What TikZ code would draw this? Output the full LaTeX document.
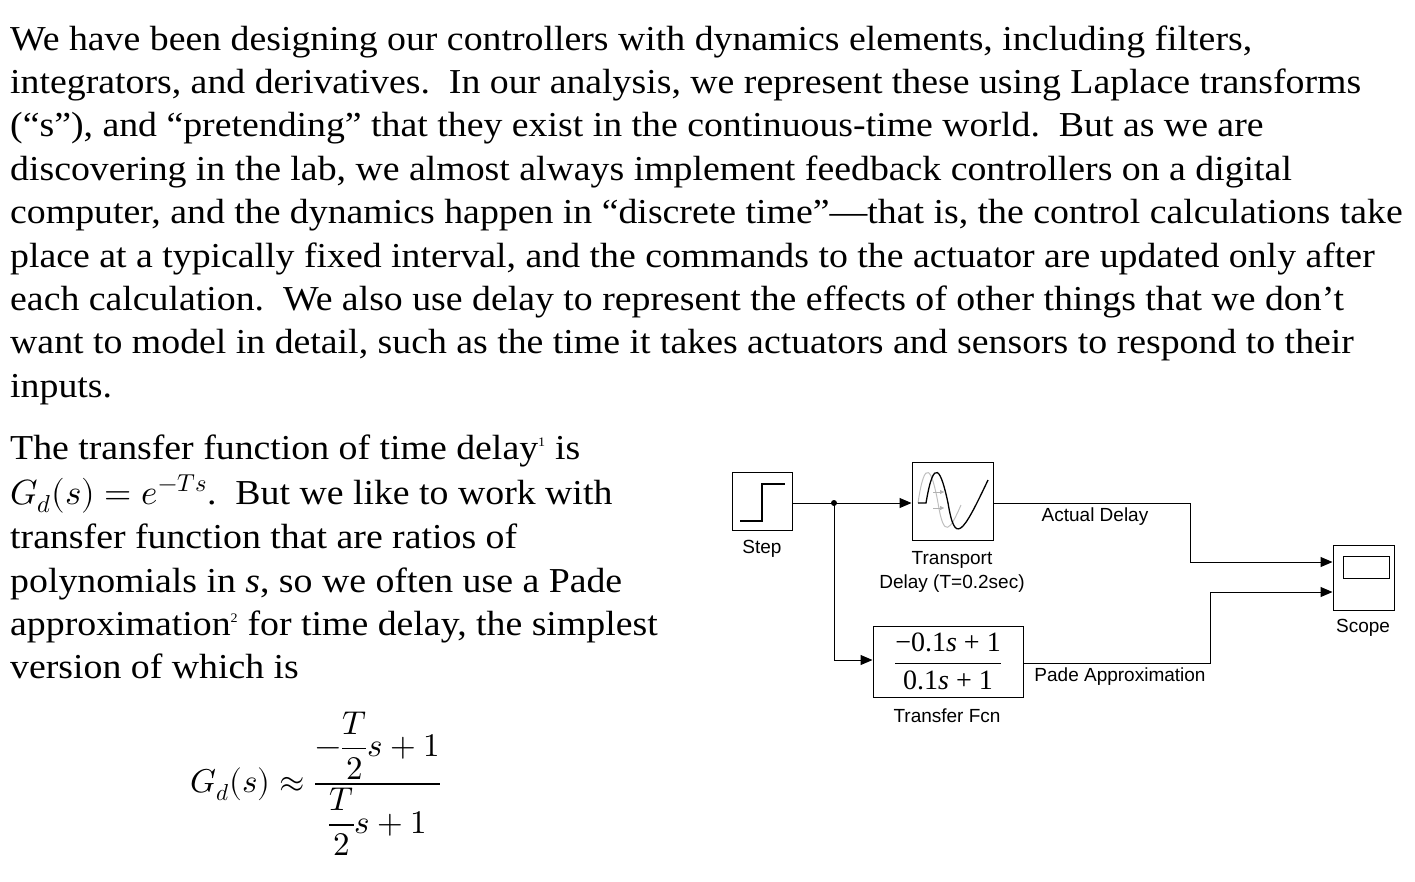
\documentclass[tikz,border=0pt]{standalone}
\usepackage{amsmath}
\usepackage{unicode-math}
\setmathfont{Latin Modern Math}
\setmainfont[FakeStretch=1.08]{Liberation Serif}
\newfontfamily\tfont{Liberation Serif}
\setsansfont{Liberation Sans}
\usetikzlibrary{arrows.meta}
\tikzset{
  txt/.style={anchor=base west,inner sep=0pt,font=\fontsize{35}{40}\selectfont},
  blk/.style={draw,line width=1pt,inner sep=0pt},
  lbl/.style={font=\sffamily\fontsize{19}{22}\selectfont,inner sep=0pt},
  sig/.style={line width=1pt,-{Triangle[length=12pt,width=10pt]}},
  wire/.style={line width=1pt}
}
\begin{document}
\begin{tikzpicture}[x=1pt,y=-1pt]
\useasboundingbox (0,0) rectangle (1415,881);
% paragraph 1
\foreach \t [count=\i] in {
 {We have been designing our controllers with dynamics elements, including filters,},
 {integrators, and derivatives.\ \ In our analysis, we represent these using Laplace transforms},
 {(``s''), and ``pretending'' that they exist in the continuous-time world.\ \ But as we are},
 {discovering in the lab, we almost always implement feedback controllers on a digital},
 {computer, and the dynamics happen in ``discrete time''---that is, the control calculations take},
 {place at a typically fixed interval, and the commands to the actuator are updated only after},
 {each calculation.\ \ We also use delay to represent the effects of other things that we don't},
 {want to model in detail, such as the time it takes actuators and sensors to respond to their},
 {inputs.}}
 \node[txt] (p\i) at (10,{50+43.4*(\i-1)}) {\t};
% paragraph 2
\node[txt] (q1) at (10,459) {The transfer function of time delay\textsuperscript{\fontsize{13}{13}\selectfont 1} is};
\node[txt] (q2) at (10,504) {$G_d(s)=e^{-Ts}$.\ \ But we like to work with};
\node[txt] (q3) at (10,548) {transfer function that are ratios of};
\node[txt] (q4) at (10,592) {polynomials in \textit{s}, so we often use a Pade};
\node[txt] (q5) at (10,635) {approximation\textsuperscript{\fontsize{13}{13}\selectfont 2} for time delay, the simplest};
\node[txt] (q6) at (10,678) {version of which is};
\node[inner sep=0pt,anchor=west,font=\fontsize{33}{38}\selectfont] (eq) at (190,784)
 {$G_d(s)\approx\dfrac{-\dfrac{T}{2}s+1}{\dfrac{T}{2}s+1}$};
% diagram
\node[blk,minimum width=60pt,minimum height=58pt] (step) at (762,501) {};
\draw[line width=1.2pt] (740,521) -- (762,521) -- (762,484) -- (785,484);
\node[lbl] (stepl) at (762,549) {Step};
\node[blk,minimum width=81pt,minimum height=78pt] (td) at (952.5,501) {};
\draw[gray!50,line width=1pt] (918,503) .. controls (925,455) and (932,470) .. (938,503) .. controls (944,540) and (950,530) .. (961,505);
\draw[line width=1.3pt] (918,503) -- (926,503) .. controls (934,455) and (941,470) .. (948,503) .. controls (955,545) and (962,535) .. (988,480);
\draw[gray!60,-{Triangle[length=4pt]}] (933,492) -- (944,492);
\draw[gray!60,-{Triangle[length=4pt]}] (933,508) -- (944,508);
\node[lbl,align=center] (tdl) at (952,572) {Transport\\[2pt]Delay (T=0.2sec)};
\node[blk,minimum width=61pt,minimum height=65pt] (sc) at (1363.5,577.5) {};
\draw[line width=1pt] (1343,556) rectangle (1389,578);
\node[lbl] (scl) at (1363,628) {Scope};
\node[blk,minimum width=150pt,minimum height=71pt] (tf) at (948,661.5)
 {\tfont\fontsize{28}{30}\selectfont$\dfrac{\text{\tfont −0.1\textit{s} + 1}}{\text{\tfont 0.1\textit{s} + 1}}$};
\node[lbl] (tfl) at (947,716) {Transfer Fcn};
\coordinate (br) at (834,503);
\fill (br) circle (3pt);
\draw[wire] (step.east |- br) -- (br);
\draw[sig] (br) -- (td.west |- br);
\draw[sig] (br) |- (tf.west |- 0,660);
\draw[sig] (td.east |- br) -| (1190,562) -- (sc.west |- 0,562);
\draw[sig] (tf.east |- 0,663) -| (1210,592) -- (sc.west |- 0,592);
\node[lbl] (ad) at (1095,517) {Actual Delay};
\node[lbl] (pa) at (1120,677) {Pade Approximation};
\end{tikzpicture}
\end{document}
